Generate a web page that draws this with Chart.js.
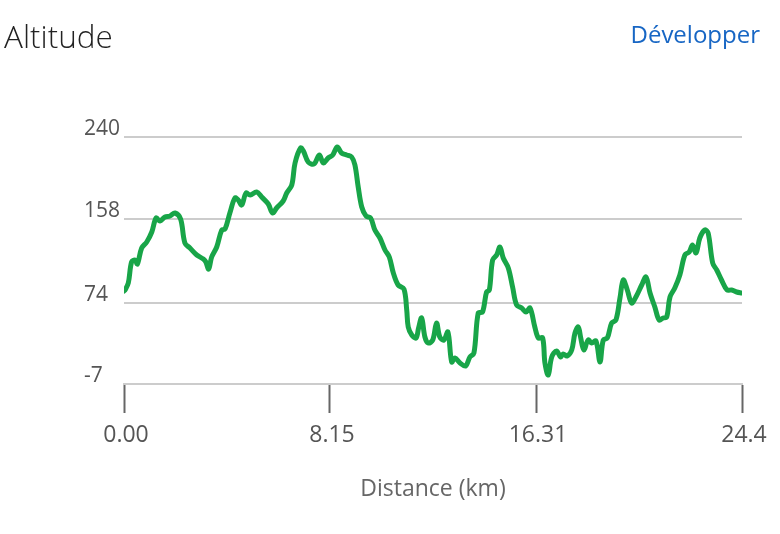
<!DOCTYPE html>
<html>
<head>
<meta charset="utf-8">
<script src="https://cdn.jsdelivr.net/npm/chart.js@4/dist/chart.umd.min.js"></script>
<style>
  html, body { margin: 0; padding: 0; background: #fff; }
  #wrap { position: relative; width: 780px; height: 534px; }
  #chart { position: absolute; left: 0; top: 0; }
  .title { position: absolute; left: 4px; top: 20px; font-family: "Open Sans Light", "Open Sans", sans-serif; font-weight: 300; font-size: 31.5px; line-height: 31.5px; color: #222; white-space: nowrap; }
  .link { position: absolute; right: 20px; top: 22px; font-family: "Open Sans", sans-serif; font-weight: 400; font-size: 24px; line-height: 24px; color: #1766c4; white-space: nowrap; }
</style>
</head>
<body>
<div id="wrap">
  <canvas id="chart" width="780" height="534"></canvas>
  <div class="title">Altitude</div>
  <div class="link">Développer</div>
</div>
<script>
// Distance along the route (km)
const distanceKm = [0.00,0.04,0.17,0.30,0.44,0.53,0.70,0.90,1.10,1.27,1.42,1.62,1.82,2.02,2.24,2.41,2.61,2.88,3.14,3.24,3.35,3.47,3.67,3.87,4.00,4.19,4.39,4.52,4.66,4.83,4.99,5.25,5.45,5.71,5.88,6.04,6.30,6.44,6.64,6.77,6.99,7.10,7.29,7.52,7.73,7.89,8.08,8.26,8.44,8.61,8.81,9.01,9.14,9.27,9.41,9.58,9.76,9.93,10.13,10.33,10.50,10.66,10.85,11.08,11.19,11.25,11.39,11.56,11.66,11.78,11.91,12.04,12.22,12.37,12.50,12.66,12.82,12.97,13.10,13.30,13.52,13.69,13.85,14.02,14.19,14.35,14.46,14.59,14.75,14.88,15.01,15.21,15.38,15.54,15.74,15.91,16.07,16.26,16.40,16.57,16.66,16.79,16.93,17.12,17.28,17.38,17.54,17.72,17.85,17.98,18.07,18.20,18.37,18.51,18.68,18.84,18.97,19.13,19.30,19.47,19.63,19.76,19.92,20.09,20.26,20.49,20.66,20.82,21.01,21.18,21.34,21.48,21.61,21.80,22.00,22.20,22.37,22.50,22.64,22.79,22.99,23.12,23.30,23.46,23.65,23.87,24.05,24.25,24.46];
// Altitude (m)
const altitudeM = [86,87,94,115,117,113,129,135,145,159,156,160,161,164,158,134,129,122,118,115,108,120,130,147,148,164,179,177,172,184,182,185,180,173,164,169,176,184,192,214,229,226,215,213,222,214,219,222,230,224,222,220,212,190,170,161,159,147,139,127,120,104,92,88,67,50,42,39,49,59,40,34,37,54,40,37,45,15,19,14,11,20,24,64,65,85,87,117,122,130,119,109,90,72,69,65,69,50,39,39,14,2,20,26,20,23,21,27,44,50,40,27,37,34,36,15,37,39,54,57,79,97,87,74,80,92,100,84,70,57,59,60,80,89,102,122,125,132,124,139,147,144,114,107,97,87,87,85,84];
// Axis ticks
const xTickValues = [0, 8.153, 16.307, 24.46];
const xTickLabels = ["0.00", "8.15", "16.31", "24.4"];
const yTickValues = [-7, 74, 158, 240];
const yTickLabels = ["-7", "74", "158", "240"];

const points = distanceKm.map((d, i) => ({ x: d, y: altitudeM[i] }));
const FONT = "'Open Sans', sans-serif";

new Chart(document.getElementById('chart'), {
  type: 'line',
  data: {
    datasets: [{
      data: points,
      borderColor: '#18a548',
      borderWidth: 5,
      pointRadius: 0,
      tension: 0.35,
      fill: false,
      borderCapStyle: 'round',
      borderJoinStyle: 'round'
    }]
  },
  options: {
    responsive: false,
    animation: false,
    events: [],
    layout: { padding: { left: 84, right: 38, top: 137, bottom: 31 } },
    plugins: { legend: { display: false }, tooltip: { enabled: false } },
    scales: {
      x: {
        type: 'linear',
        min: 0,
        max: 24.46,
        afterBuildTicks: (s) => { s.ticks = xTickValues.map(v => ({ value: v })); },
        afterFit: (s) => { s.height = 119; },
        grid: { drawOnChartArea: false, drawTicks: true, tickLength: 29, tickColor: '#666666', tickWidth: 2 },
        border: { display: true, color: '#cccccc', width: 2 },
        ticks: {
          autoSkip: false,
          maxRotation: 0,
          padding: 9,
          labelOffset: 2,
          color: '#555555',
          font: { family: FONT, size: 23 },
          callback: (v, i) => xTickLabels[i]
        },
        title: {
          display: true,
          text: 'Distance (km)',
          color: '#666666',
          font: { family: FONT, size: 23 },
          padding: { top: 0, bottom: 0 }
        }
      },
      y: {
        type: 'linear',
        min: -7,
        max: 240,
        afterBuildTicks: (s) => { s.ticks = yTickValues.map(v => ({ value: v })); },
        afterFit: (s) => { s.width = 40; },
        grid: { color: '#cccccc', lineWidth: 2, drawTicks: false },
        border: { display: false },
        ticks: {
          autoSkip: false,
          crossAlign: 'far',
          padding: 0,
          labelOffset: -8,
          color: '#555555',
          font: { family: FONT, size: 21 },
          callback: (v, i) => yTickLabels[i]
        }
      }
    }
  }
});
</script>
</body>
</html>
